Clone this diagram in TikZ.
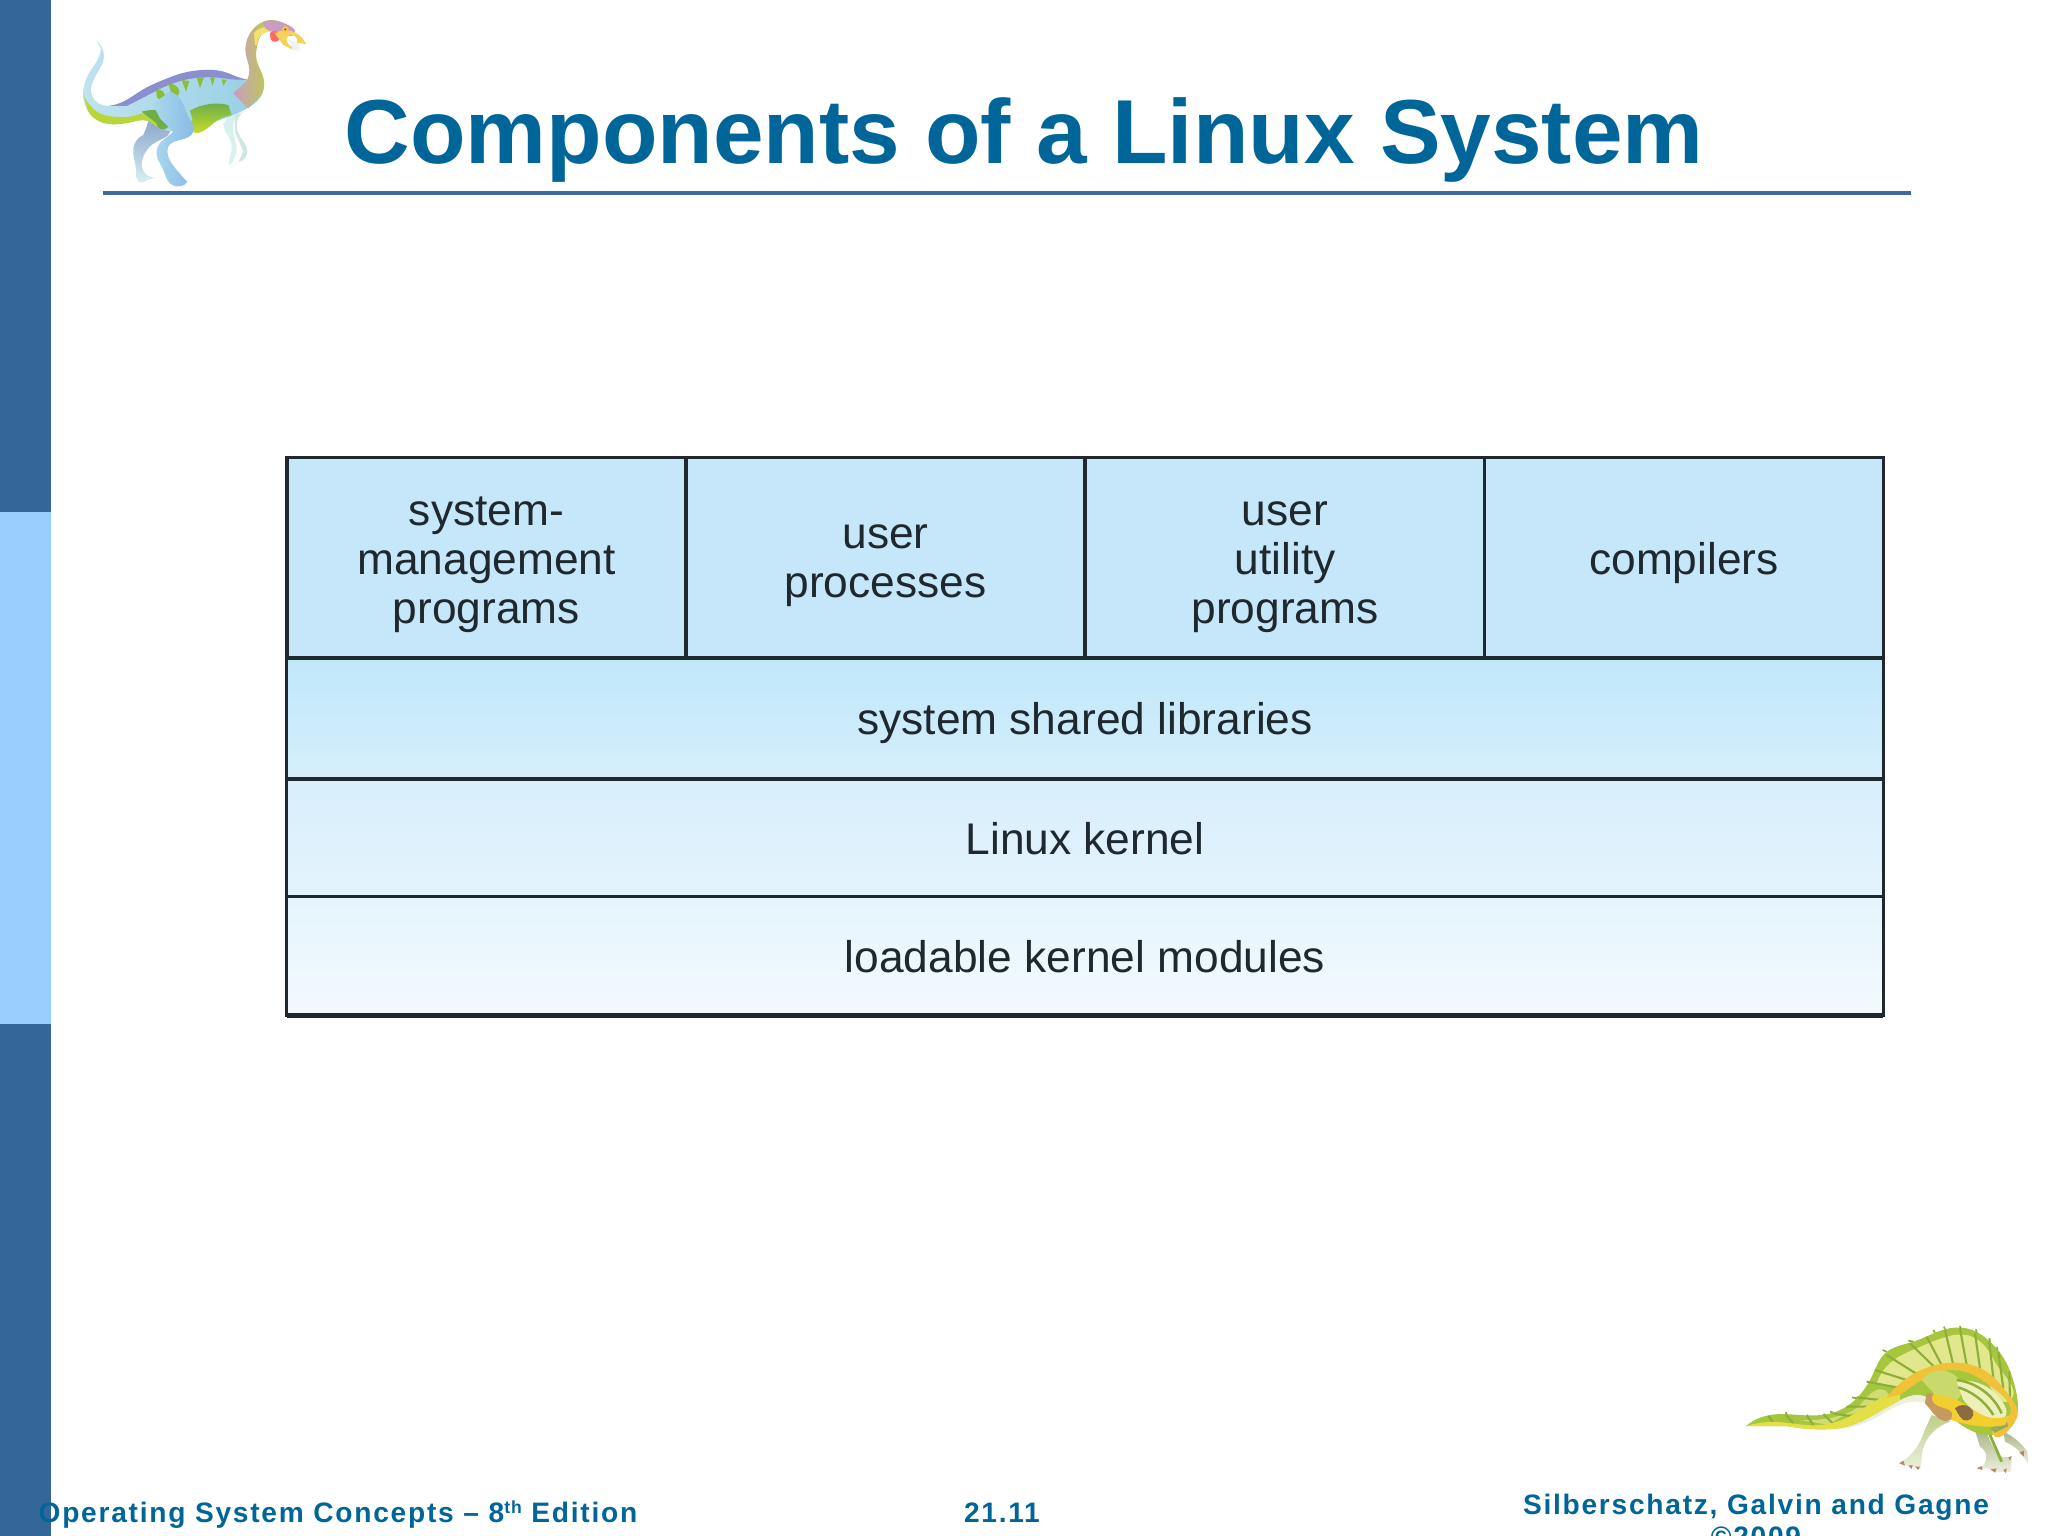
\documentclass[tikz,border=0pt]{standalone}
\usepackage{fontspec}
\setmainfont{Liberation Sans}
\newfontfamily\slidefoot[LetterSpace=6.2]{Liberation Sans}
\usepackage{tikz}
\usetikzlibrary{hobby}
\definecolor{sidedark}{HTML}{356699}
\definecolor{sidelight}{HTML}{99CCFF}
\definecolor{titleblue}{HTML}{006699}
\definecolor{rulecol}{HTML}{3A6A9E}
\definecolor{inkcol}{HTML}{1F282E}
\definecolor{cellfill}{HTML}{C6E7FA}
\definecolor{dblue}{HTML}{96CFE4}
\definecolor{dback}{HTML}{8C8FCF}
\definecolor{dgreen}{HTML}{9CC54A}
\definecolor{dyellow}{HTML}{F4E06A}
\definecolor{dmauve}{HTML}{C99CC4}
\definecolor{dpale}{HTML}{D8F1EE}
\definecolor{dslate}{HTML}{7F9AC8}
\definecolor{dleaf}{HTML}{6FAE4A}
\definecolor{sfin}{HTML}{A6C63E}
\definecolor{sfinlight}{HTML}{E2E68C}
\definecolor{srib}{HTML}{8DAE38}
\definecolor{stail}{HTML}{E4DF45}
\definecolor{sband}{HTML}{EFC23A}
\definecolor{shead}{HTML}{C69A5E}
\definecolor{sbelly}{HTML}{ECEFDC}
\definecolor{sleg}{HTML}{BCCF8C}
\definecolor{stoe}{HTML}{B8846A}
\tikzset{
  celltext/.style={inner sep=0pt, align=center, text=inkcol, font=\fontsize{12.6}{13.95}\selectfont},
  cellbox/.style={draw=inkcol, line width=0.95pt, outer sep=0pt, inner sep=0pt, celltext,
    execute at begin node={\rule[-0.09cm]{0pt}{0.51cm}}},
  topcell/.style={cellbox, fill=cellfill, minimum width=3.99cm, minimum height=2.01cm},
  rowcell/.style={cellbox, minimum width=15.96cm},
  footlabel/.style={text=titleblue, inner sep=0pt, align=center, font=\slidefoot\bfseries\fontsize{8}{8.9}\selectfont}
}
\begin{document}
\begin{tikzpicture}[x=0.01cm,y=-0.01cm,use Hobby shortcut]
  \useasboundingbox (0,0) rectangle (2048,1536);
  \fill [sidedark] (0,0) rectangle (51,1536);
  \fill [sidelight] (0,512) rectangle (51,1024);
  \fill [rulecol] (103,190.5) rectangle (1911,195);

  \begin{scope}[scale=0.3333]
    \shade [top color=dslate, bottom color=dpale] (440,380) .. (510,395) .. (470,425) .. (430,470) .. (426,500) .. (440,525) .. (465,533) -- (440,541) .. (415,543) .. (408,510) .. (400,445) .. (430,405) -- cycle;
    \fill [dpale] (670,375) .. (685,345) -- (710,345) .. (700,395) .. (710,445) .. (686,497) -- (690,470) .. (695,440) .. (675,395) -- cycle;
    \fill [dpale!90!gray] (705,345) -- (730,335) .. (715,400) .. (742,455) .. (715,486) -- (730,455) .. (705,395) -- cycle;
    \shade [left color=dblue!60!white, right color=dblue] (290,122) .. (305,140) .. (312,165) .. (300,205) .. (275,255) .. (275,285) .. (295,310) .. (325,318) .. (370,305) .. (430,268) .. (490,240) .. (545,220) .. (610,210) .. (670,215) .. (710,230) .. (745,240) -- (790,240) .. (785,285) .. (750,320) .. (700,345) .. (660,360) .. (620,375) .. (575,392) .. (520,395) .. (480,385) .. (440,362) .. (400,365) .. (340,373) .. (300,365) .. (265,335) .. (250,295) .. (252,258) .. (270,215) .. (295,175) .. (303,145) -- cycle;
    \fill [dgreen!70!yellow] (250,285) .. (262,305) .. (290,335) .. (340,350) .. (400,348) .. (440,340) .. (470,365) -- (500,388) .. (480,385) .. (440,362) .. (400,365) .. (340,373) .. (300,365) .. (265,335) -- cycle;
    \fill [dleaf] (425,335) .. (455,330) .. (500,385) .. (470,370) -- cycle;
    \shade [top color=dleaf, bottom color=dgreen!50!yellow] (570,332) .. (630,312) .. (685,315) -- (695,345) .. (640,370) .. (575,392) .. (578,360) -- cycle;
    \fill [dback] (325,318) .. (370,305) .. (430,268) .. (490,240) .. (545,220) .. (610,210) .. (670,215) .. (710,230) .. (745,240) -- (690,238) .. (610,232) .. (545,242) .. (490,262) .. (435,290) .. (380,318) -- cycle;
    \fill [dleaf!80!yellow] (468,270) .. (490,275) .. (492,295) .. (470,285) -- cycle;
    \fill [dleaf!80!yellow] (505,252) .. (535,265) .. (535,285) .. (512,272) -- cycle;
    \fill [dleaf!80!yellow] (545,240) -- (568,243) .. (558,275) -- cycle;
    \fill [dleaf!80!yellow] (590,232) -- (612,232) .. (600,265) -- cycle;
    \fill [dleaf!80!yellow] (630,232) -- (645,232) .. (637,258) -- cycle;
    \fill [dleaf!80!yellow] (665,238) -- (680,240) .. (670,258) -- cycle;
    \shade [left color=dblue!80!white, right color=dblue!90!blue] (458,312) -- (510,275) .. (540,295) .. (565,350) .. (580,395) .. (540,420) .. (505,440) .. (505,470) .. (530,510) .. (562,545) -- (555,553) .. (510,550) .. (490,510) .. (470,465) .. (490,420) -- (520,395) .. (480,355) -- cycle;
    \shade [left color=dmauve, middle color=dyellow, right color=dgreen!70!yellow] (738,245) .. (748,210) .. (737,160) .. (750,100) .. (790,65) .. (830,62) -- (825,100) .. (790,100) .. (772,135) .. (770,180) .. (792,240) .. (780,290) -- (745,325) -- (700,280) -- cycle;
    \fill [dyellow] (762,100) .. (790,82) .. (825,90) -- (825,100) .. (790,100) .. (772,135) -- (765,135) -- cycle;
    \fill [dmauve] (790,65) .. (830,62) .. (870,78) .. (885,100) .. (855,105) .. (825,98) .. (795,85) -- cycle;
    \fill [red!45!pink] (810,100) .. (835,98) .. (830,125) .. (812,118) -- cycle;
    \fill [dyellow!85!orange] (825,100) .. (880,95) .. (905,112) .. (918,132) -- (890,128) .. (862,112) .. (875,140) .. (900,148) -- (880,150) .. (850,135) -- cycle;
    \fill [white!90!gray] (862,118) .. (885,125) .. (900,142) .. (875,135) -- cycle;
    \fill [dyellow!70!orange] (856,88) circle (10);
    \fill [black!70] (856,88) circle (3);
  \end{scope}

  \begin{scope}[shift={(1700,1300)},scale=0.3333]
    \shade [top color=sleg!70!gray, bottom color=sbelly] (910,395) .. (950,420) .. (982,455) -- (985,495) .. (965,462) .. (915,425) -- cycle;
    \shade [top color=sleg!70!gray, bottom color=sbelly] (825,392) -- (860,395) .. (880,440) .. (905,470) -- (935,472) -- (932,515) -- (885,517) .. (860,505) -- (830,507) .. (858,480) .. (840,440) -- cycle;
    \draw [srib, line width=0.8pt] (870,405) -- (905,485);
    \shade [top color=sleg, bottom color=sbelly] (695,345) -- (752,365) .. (700,395) .. (668,450) -- (662,505) .. (625,498) -- (598,490) .. (640,455) .. (672,395) -- cycle;
    \fill [stoe] (598,490) -- (610,482) -- (615,497) -- cycle (625,497) -- (638,495) -- (635,507) -- cycle (645,500) -- (660,500) -- (655,510) -- cycle (830,505) -- (845,498) -- (848,510) -- cycle (872,508) -- (890,505) -- (885,518) -- cycle (910,510) -- (920,505) -- (918,520) -- cycle (925,472) -- (935,468) -- (930,482) -- cycle (958,458) -- (972,452) -- (972,470) -- cycle;
    \fill [sbelly] (370,388) .. (520,345) .. (600,300) .. (680,280) -- (695,315) .. (620,308) .. (530,352) .. (440,385) -- cycle;
    \fill [sfin] (138,378) .. (200,347) .. (300,345) .. (400,338) .. (470,295) .. (520,220) .. (555,160) .. (640,125) .. (735,88) .. (800,85) .. (870,125) .. (920,190) .. (945,260) .. (952,340) .. (930,385) .. (880,405) .. (800,385) .. (720,320) .. (660,285) .. (600,300) .. (520,345) .. (440,380) .. (370,388) .. (260,378) -- cycle;
    \fill [sfinlight] (530,250) .. (575,185) .. (650,145) .. (740,110) .. (800,105) .. (860,145) .. (905,215) .. (930,300) .. (850,225) .. (760,190) .. (660,215) .. (590,260) -- cycle;
    \fill [sfinlight!70!sfin] (300,360) .. (400,352) .. (480,315) .. (530,270) .. (560,275) .. (470,340) .. (390,375) -- cycle;
    \draw [srib, line width=0.6pt] (760,195) -- (735,90) (800,195) -- (780,86) (840,205) -- (825,100) (880,235) -- (868,125) (910,265) -- (895,155) (930,300) -- (928,215) (725,195) -- (680,110) (700,198) -- (630,130) (650,222) -- (560,165) (620,240) -- (525,210) (590,262) -- (500,245) (540,300) -- (470,292) (500,320) -- (440,320) (460,350) -- (400,340) (400,372) -- (370,342) (340,375) -- (320,345) (280,370) -- (258,345) (220,368) -- (205,348);
    \draw [srib, line width=0.5pt] (560,155) -- (548,150) (640,125) -- (625,122) (705,98) -- (700,90) (735,88) -- (732,80) (782,85) -- (780,78) (830,98) -- (828,88) (870,125) -- (868,114) (892,150) -- (892,140) (470,295) -- (456,292) (400,338) -- (390,335) (260,345) -- (258,336);
    \fill [stail] (138,378) .. (230,366) .. (340,376) .. (430,358) .. (540,295) .. (600,270) -- (600,300) .. (520,345) .. (440,380) .. (370,388) .. (260,378) -- cycle;
    \fill [sband] (560,292) .. (640,222) .. (760,188) .. (860,215) .. (930,290) .. (953,345) .. (930,385) .. (880,405) .. (925,352) .. (890,272) .. (820,225) .. (750,210) .. (670,238) .. (600,285) -- cycle;
    \fill [sfinlight!60!sfin] (665,240) .. (745,215) .. (780,290) .. (700,278) -- cycle;
    \fill [sfinlight!60!white] (770,245) .. (850,255) .. (910,310) .. (918,345) .. (850,352) .. (790,300) -- cycle;
    \draw [srib, line width=0.7pt] (770,240) .. (850,272) .. (905,340) (775,262) .. (830,290) .. (880,345);
    \fill [sfin!75!black!80] (870,385) .. (920,365) -- (925,378) .. (885,398) -- cycle;
    \fill [sband!80!yellow] (680,282) .. (720,285) .. (790,310) .. (860,350) .. (930,345) -- (915,375) .. (860,380) .. (770,365) .. (700,340) -- cycle;
    \fill [shead] (680,278) -- (700,282) .. (702,310) .. (755,352) .. (700,340) .. (675,310) -- cycle;
    \fill [shead!70!black] (765,325) .. (810,322) .. (820,345) .. (780,350) -- cycle;
  \end{scope}

  \node [text=titleblue, anchor=base west, inner sep=0pt, font=\bfseries\fontsize{25.85}{28}\selectfont] (slidetitle) at (344,163) {Components of a Linux System};

  \node [topcell, label={[celltext, yshift=-0.065cm]center:{system-\\management\\programs}}] (sysmgmt) at (486.5,558) {};
  \node [topcell, label={[celltext, yshift=-0.08cm]center:{user\\processes}}] (userproc) at (885.5,558) {};
  \node [topcell, label={[celltext, yshift=-0.09cm]center:{user\\utility\\programs}}] (userutil) at (1285,558) {};
  \node [topcell] (compilers) at (1684,558) {compilers};
  \node [rowcell, minimum height=1.21cm, top color=cellfill!97!cyan, bottom color=cellfill!72!white] (sharedlibs) at (1085,718.5) {system shared libraries};
  \node [rowcell, minimum height=1.175cm, top color=cellfill!68!white, bottom color=cellfill!48!white] (linuxkernel) at (1085,838) {Linux kernel};
  \node [rowcell, minimum height=1.19cm, top color=cellfill!45!white, bottom color=cellfill!22!white] (kernelmods) at (1085,956) {loadable kernel modules};
  \draw [inkcol, line width=1.2pt] (kernelmods.south west) -- (kernelmods.south east);

  \node [footlabel, anchor=base west] (booktitle) at (38,1522) {Operating System Concepts – 8\raisebox{0.09cm}{\fontsize{5}{5}\selectfont th} Edition};
  \node [footlabel, anchor=base] (pagenum) at (1002,1522) {21.11};
  \node [footlabel, anchor=base] (authors) at (1756,1514) {Silberschatz, Galvin and Gagne};
  \node [footlabel, anchor=base] (copyyear) at (1756,1546) {©2009};
\end{tikzpicture}
\end{document}
